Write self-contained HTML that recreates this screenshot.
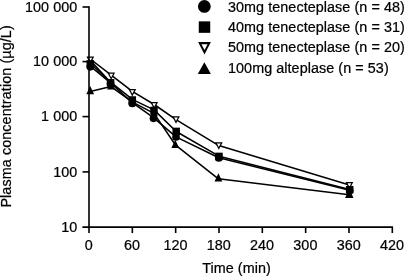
<!DOCTYPE html><html><head><meta charset="utf-8"><style>html,body{margin:0;padding:0;background:#fff}svg{display:block}text{letter-spacing:0.07px;font-family:"Liberation Sans",Arial,sans-serif;fill:#000;stroke:#000;stroke-width:0.22px}</style></head><body>
<svg width="404" height="276" viewBox="0 0 404 276">
<rect width="404" height="276" fill="#fff"/>
<g stroke="#000" stroke-width="1.55" fill="none" stroke-linejoin="round">
<polyline points="90.2,91.5 111.0,86.6 132.5,102.1 154.0,113.4 175.3,144.8 218.4,178.8 349.3,194.7"/>
<polyline points="90.3,66.1 110.5,82.9 132.3,102.7 153.5,117.6 176.0,136.9 218.8,157.8 349.7,190.3"/>
<polyline points="90.3,63.3 110.6,82.2 132.3,99.4 154.0,109.9 176.2,131.5 219.0,156.2 349.7,189.6"/>
<polyline points="90.3,59.0 111.2,75.1 132.3,91.4 154.2,104.5 176.0,119.6 218.8,145.6 349.4,184.9"/>
<path d="M90.3 60.2L110.6 82.6"/>
</g>
<path d="M86.30 94.30H94.10L90.20 85.90Z" fill="#000"/>
<path d="M107.10 89.40H114.90L111.00 81.00Z" fill="#000"/>
<path d="M128.60 104.90H136.40L132.50 96.50Z" fill="#000"/>
<path d="M150.10 116.20H157.90L154.00 107.80Z" fill="#000"/>
<path d="M171.40 148.10H179.20L175.30 139.70Z" fill="#000"/>
<path d="M214.50 181.60H222.30L218.40 173.20Z" fill="#000"/>
<path d="M345.05 197.88H353.55L349.30 188.72Z" fill="#000"/>
<path d="M86.40 56.50L94.20 56.50L90.30 64.00Z" fill="#000"/><path d="M88.46 57.75L92.14 57.75L90.30 61.29Z" fill="#fff"/>
<path d="M107.30 72.60L115.10 72.60L111.20 80.10Z" fill="#000"/><path d="M109.36 73.85L113.04 73.85L111.20 77.39Z" fill="#fff"/>
<path d="M128.40 88.90L136.20 88.90L132.30 96.40Z" fill="#000"/><path d="M130.46 90.15L134.14 90.15L132.30 93.69Z" fill="#fff"/>
<path d="M150.30 102.00L158.10 102.00L154.20 109.50Z" fill="#000"/><path d="M152.36 103.25L156.04 103.25L154.20 106.79Z" fill="#fff"/>
<path d="M172.10 116.25L179.90 116.25L176.00 123.75Z" fill="#000"/><path d="M174.16 117.50L177.84 117.50L176.00 121.04Z" fill="#fff"/>
<path d="M214.90 142.30L222.70 142.30L218.80 149.80Z" fill="#000"/><path d="M216.96 143.55L220.64 143.55L218.80 147.09Z" fill="#fff"/>
<path d="M345.50 182.10L353.30 182.10L349.40 189.60Z" fill="#000"/><path d="M347.56 183.35L351.24 183.35L349.40 186.89Z" fill="#fff"/>
<rect x="86.55" y="60.15" width="7.50" height="7.50" fill="#000"/>
<rect x="106.85" y="79.05" width="7.50" height="7.50" fill="#000"/>
<rect x="128.55" y="96.25" width="7.50" height="7.50" fill="#000"/>
<rect x="150.25" y="106.75" width="7.50" height="7.50" fill="#000"/>
<rect x="172.45" y="127.65" width="7.50" height="7.50" fill="#000"/>
<rect x="215.25" y="152.65" width="7.50" height="7.50" fill="#000"/>
<rect x="345.95" y="185.95" width="7.50" height="7.50" fill="#000"/>
<circle cx="90.30" cy="66.80" r="3.85" fill="#000"/>
<circle cx="110.50" cy="83.60" r="3.85" fill="#000"/>
<circle cx="132.30" cy="103.40" r="3.85" fill="#000"/>
<circle cx="153.50" cy="118.30" r="3.85" fill="#000"/>
<circle cx="176.00" cy="137.00" r="3.85" fill="#000"/>
<circle cx="218.80" cy="157.90" r="3.85" fill="#000"/>
<circle cx="349.70" cy="190.50" r="3.85" fill="#000"/>
<g stroke="#000" stroke-width="1.6" fill="none" stroke-linecap="butt">
<path d="M89.0 6.2V233M82.4 227.1H393"/>
<path d="M82.5 171.90H89.0"/>
<path d="M82.5 116.60H89.0"/>
<path d="M82.5 61.60H89.0"/>
<path d="M82.5 7.00H89.0"/>
<path d="M132.33 227.1V233"/>
<path d="M175.66 227.1V233"/>
<path d="M218.99 227.1V233"/>
<path d="M262.32 227.1V233"/>
<path d="M305.65 227.1V233"/>
<path d="M348.98 227.1V233"/>
<path d="M392.31 227.1V233"/>
</g>
<circle cx="204.35" cy="6.40" r="6.39" fill="#000"/>
<text x="228" y="11.7" font-size="14.35">30mg tenecteplase (n = 48)</text>
<rect x="198.76" y="21.36" width="11.47" height="11.47" fill="#000"/>
<text x="228" y="32.0" font-size="14.35">40mg tenecteplase (n = 31)</text>
<path d="M198.10 42.10L210.90 42.10L204.50 54.40Z" fill="#000"/><path d="M201.48 44.15L207.52 44.15L204.50 49.96Z" fill="#fff"/>
<text x="228" y="52.4" font-size="14.35">50mg tenecteplase (n = 20)</text>
<path d="M197.8 73.9H210.9L204.35 62.3Z" fill="#000"/>
<text x="228" y="72.7" font-size="14.35">100mg alteplase (n = 53)</text>
<text x="77.3" y="231.8" font-size="14.35" text-anchor="end">10</text>
<text x="77.3" y="176.6" font-size="14.35" text-anchor="end">100</text>
<text x="77.3" y="121.3" font-size="14.35" text-anchor="end">1 000</text>
<text x="77.3" y="66.3" font-size="14.35" text-anchor="end">10 000</text>
<text x="77.3" y="11.7" font-size="14.35" text-anchor="end">100 000</text>
<text x="88.8" y="250" font-size="14.35" text-anchor="middle">0</text>
<text x="132.1" y="250" font-size="14.35" text-anchor="middle">60</text>
<text x="175.5" y="250" font-size="14.35" text-anchor="middle">120</text>
<text x="218.8" y="250" font-size="14.35" text-anchor="middle">180</text>
<text x="262.1" y="250" font-size="14.35" text-anchor="middle">240</text>
<text x="305.4" y="250" font-size="14.35" text-anchor="middle">300</text>
<text x="348.8" y="250" font-size="14.35" text-anchor="middle">360</text>
<text x="392.1" y="250" font-size="14.35" text-anchor="middle">420</text>
<text x="236.5" y="272.8" font-size="14.35" text-anchor="middle">Time (min)</text>
<text transform="translate(10.9,116.4) rotate(-90)" style="letter-spacing:0.1px" font-size="14.35" text-anchor="middle">Plasma concentration (µg/L)</text>
</svg></body></html>
